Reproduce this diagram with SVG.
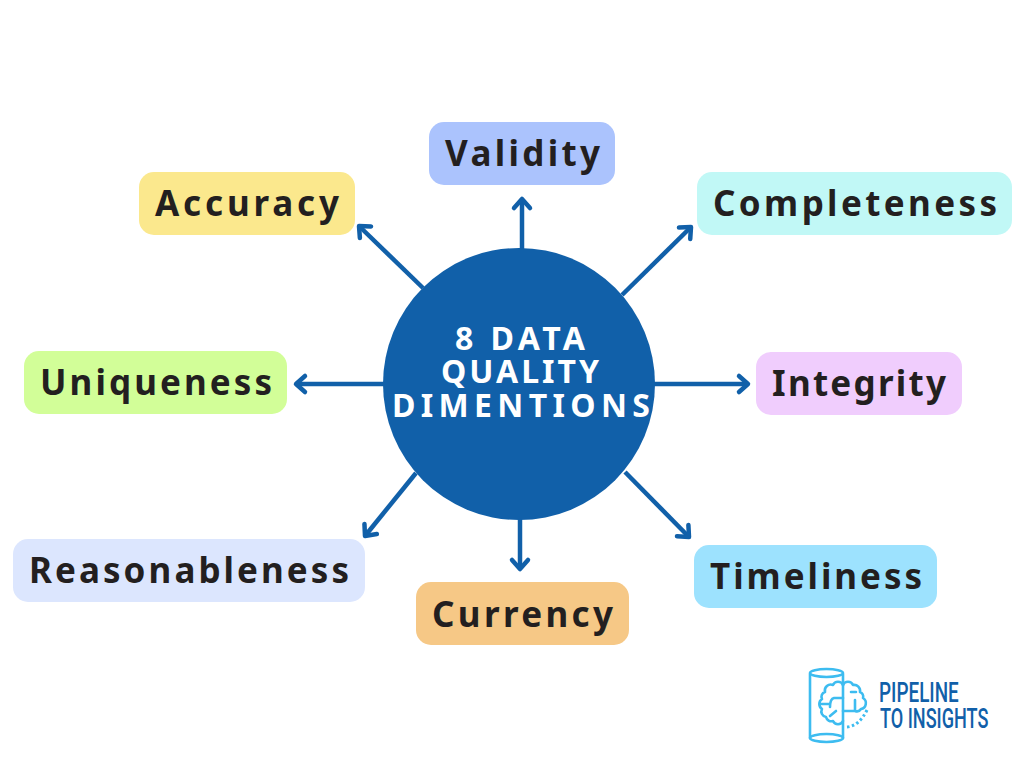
<svg xmlns="http://www.w3.org/2000/svg" width="1024" height="768" viewBox="0 0 1024 768">
<style>
.l{font-family:"Noto Sans","Open Sans",sans-serif;font-weight:700;font-size:35px;fill:#231f20}
.c{font-family:"Noto Sans","Open Sans",sans-serif;font-weight:700;font-size:32px;fill:#fff}
.a{fill:none;stroke:#1160a9;stroke-width:4.5}
.lg{fill:none;stroke:#3dbcf0;stroke-width:2.6;stroke-linecap:round;stroke-linejoin:round}
.t{font-family:"Roboto","Liberation Sans",sans-serif;font-weight:500;font-size:27px;fill:#1160a9}
</style>
<defs><marker id="h" markerUnits="userSpaceOnUse" markerWidth="24" markerHeight="24" refX="16" refY="12" orient="auto"><path d="M7 4L16 12L7 20" fill="none" stroke="#1160a9" stroke-width="4.5" stroke-linecap="round" stroke-linejoin="round"/></marker></defs>
<rect width="1024" height="768" fill="#fff"/>
<g id="connectors">
<line class="a" x1="522" y1="250" x2="522" y2="199" marker-end="url(#h)"/>
<line class="a" x1="423" y1="288" x2="359" y2="226" marker-end="url(#h)"/>
<line class="a" x1="622" y1="295" x2="691" y2="227" marker-end="url(#h)"/>
<line class="a" x1="385" y1="384" x2="296" y2="384" marker-end="url(#h)"/>
<line class="a" x1="653" y1="384" x2="748" y2="384" marker-end="url(#h)"/>
<line class="a" x1="416" y1="473" x2="365" y2="536" marker-end="url(#h)"/>
<line class="a" x1="520" y1="518" x2="520" y2="569" marker-end="url(#h)"/>
<line class="a" x1="625" y1="472" x2="689" y2="537" marker-end="url(#h)"/>
</g>
<g id="center"><circle cx="519" cy="384" r="136" fill="#1160a9"/>
<text class="c" x="455" y="350" textLength="130">8 DATA</text><text class="c" x="441" y="383" textLength="158">QUALITY</text><text class="c" x="392" y="417" textLength="258">DIMENTIONS</text></g>
<g id="validity"><rect x="429" y="122" width="186" height="63" rx="15" fill="#abc3fd"/><text class="l" x="445" y="166" textLength="155">Validity</text></g>
<g id="accuracy"><rect x="139" y="172" width="216" height="63" rx="15" fill="#fbe88d"/><text class="l" x="155" y="216" textLength="184">Accuracy</text></g>
<g id="completeness"><rect x="697" y="172" width="315" height="63" rx="15" fill="#c1f8f6"/><text class="l" x="713" y="216" textLength="284">Completeness</text></g>
<g id="uniqueness"><rect x="24" y="351" width="263" height="63" rx="15" fill="#d2fe98"/><text class="l" x="40" y="395" textLength="232">Uniqueness</text></g>
<g id="integrity"><rect x="756" y="352" width="206" height="63" rx="15" fill="#f0cdfd"/><text class="l" x="772" y="396" textLength="174">Integrity</text></g>
<g id="reasonableness"><rect x="13" y="539" width="352" height="63" rx="15" fill="#dce6fe"/><text class="l" x="29" y="583" textLength="320">Reasonableness</text></g>
<g id="currency"><rect x="416" y="582" width="213" height="63" rx="15" fill="#f6c886"/><text class="l" x="432" y="627" textLength="181">Currency</text></g>
<g id="timeliness"><rect x="694" y="545" width="243" height="63" rx="15" fill="#9de2fe"/><text class="l" x="710" y="589" textLength="212">Timeliness</text></g>
<g id="logo">
<path class="lg" d="M810 674V738M843 674V738"/>
<ellipse class="lg" cx="826.500" cy="673" rx="16.500" ry="4"/>
<ellipse class="lg" cx="826.500" cy="738" rx="16.500" ry="4"/>
<path class="lg" d="M843 685A5.500 5.500 0 0 0 833 685A6 6 0 0 0 825 692A5 5 0 0 0 822 699A6 6 0 0 0 822 709A5.500 5.500 0 0 0 826 717A5.500 5.500 0 0 0 833 721A5.500 5.500 0 0 0 843 721M843 698H834Q830 699 830 707M820 704H830M830 716L836 711"/>
<path class="lg" d="M843 685A5.500 5.500 0 0 1 853 685A6 6 0 0 1 860 692A5 5 0 0 1 863 698A6 6 0 0 1 861 709A5 5 0 0 1 855 711H843M855 711V700M851 692H856"/>
<path d="M847 727Q859 726 867 710" fill="none" stroke="#3dbcf0" stroke-width="3" stroke-dasharray="2.500 2.500"/>
<text class="t" transform="translate(879 702) scale(.7 1)">PIPELINE</text>
<text class="t" transform="translate(880 728) scale(.67 1)">TO INSIGHTS</text>
</g>
</svg>
